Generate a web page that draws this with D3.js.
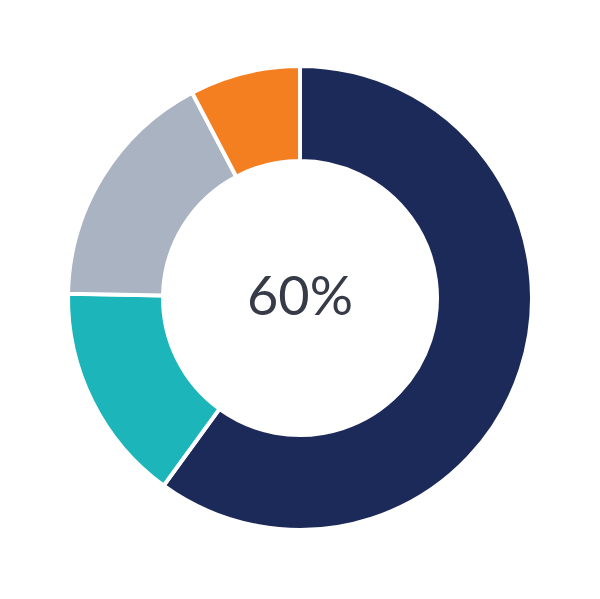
<!DOCTYPE html>
<html>
<head>
<meta charset="utf-8">
<script src="https://cdn.jsdelivr.net/npm/d3@7"></script>
<style>
  html, body { margin: 0; padding: 0; background: #fff; }
</style>
</head>
<body>
<div class="donutContainer"></div>
<script>
const categories = ["A", "B", "C", "D"];
const values = [60, 15.3, 17, 7.7];
const colors = ["#1c2a5a", "#1cb5b9", "#a9b3c2", "#f47f20"];
const centerLabel = "60%";

const width = 600;
const height = 599;
const cx = 300, cy = 298;
const outerRadius = 232;
const innerRadius = 137;

const data = categories.map((c, i) => ({ name: c, value: values[i], color: colors[i] }));

const pie = d3.pie()
    .value(d => d.value)
    .sort(null);

const arc = d3.arc()
    .innerRadius(innerRadius)
    .outerRadius(outerRadius);

const svg = d3.select('.donutContainer').append("svg")
    .attr("width", width)
    .attr("height", height)
    .attr("viewBox", [0, 0, width, height]);

const g = svg.append("g")
    .attr("transform", `translate(${cx},${cy})`);

// white stroke makes the gaps between slices
g.selectAll("path")
    .data(pie(data))
    .join("path")
    .attr("d", arc)
    .attr("fill", d => d.data.color)
    .attr("stroke", "#fff")
    .attr("stroke-width", 4);

g.append("text")
    .attr("text-anchor", "middle")
    .attr("y", 17)
    .attr("font-family", "Lato, 'Open Sans', sans-serif")
    .attr("font-weight", 400)
    .attr("font-size", 54)
    .attr("fill", "#363b47")
    .text(centerLabel);
</script>
</body>
</html>
